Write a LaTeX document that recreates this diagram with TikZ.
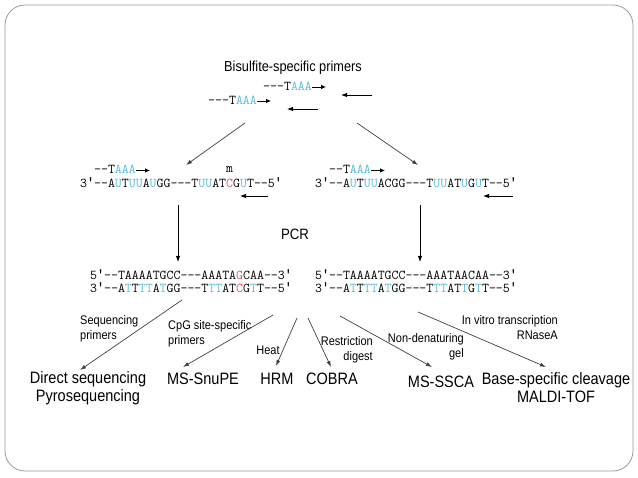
\documentclass[tikz,border=0pt]{standalone}
\usepackage{fontspec}
\setmainfont{Liberation Sans}
\newfontfamily\nsans[FakeStretch=0.88]{Liberation Sans}
\newfontfamily\primefont{Liberation Mono}
\usetikzlibrary{arrows.meta}
\definecolor{cy}{HTML}{55BBDD}
\definecolor{rd}{HTML}{E0506A}
\definecolor{framegray}{HTML}{9A9A9A}
\newcommand\cU[1]{\textcolor{cy}{#1}}
\newcommand\cR[1]{\textcolor{rd}{#1}}
\newcommand\prm{\makebox[\fontcharwd\font`A][c]{\primefont ′}}
\begin{document}
\begin{tikzpicture}[x=1pt,y=-1pt,
  lab/.style={font=\nsans\fontsize{12.5}{15}\selectfont, inner sep=0},
  res/.style={font=\nsans\fontsize{16.5}{18}\selectfont, inner sep=0, align=center},
  ttl/.style={font=\nsans\fontsize{14.5}{16}\selectfont, inner sep=0},
  seq/.style={font=\ttfamily\fontsize{13.5}{14}\selectfont, anchor=west, inner sep=0, text height=8pt, text depth=1.5pt},
  blk/.style={-{Latex[length=6pt,width=4.5pt]}, line width=0.9pt, black},
  shortarr/.style={-{Latex[length=5pt,width=4.5pt]}, line width=0.9pt, black},
  gry/.style={-{Latex[length=6pt,width=4pt]}, line width=0.7pt, black!75},
]
\useasboundingbox (0,0) rectangle (638,478);
\draw[framegray, line width=0.8pt, rounded corners=20pt] (5,5) rectangle (633,471);

% title
\node[ttl] (title) at (293,68) {Bisulfite-specific primers};

% top primers
\node[seq] (tp1) at (263,87) {---T\cU{AAA}};
\coordinate (tp1e) at ([xshift=14pt]tp1.east);
\draw[shortarr] (tp1.east) -- (tp1e);
\node[seq] (tp2) at (208,101) {---T\cU{AAA}};
\coordinate (tp2e) at ([xshift=14pt]tp2.east);
\draw[shortarr] (tp2.east) -- (tp2e);
\coordinate (ta1s) at (372,95); \coordinate (ta1e) at (341,95);
\draw[blk] (ta1s) -- (ta1e);
\coordinate (ta2s) at (318,109); \coordinate (ta2e) at (287,109);
\draw[blk] (ta2s) -- (ta2e);

% diagonal arrows
\coordinate (dl1) at (245,123); \coordinate (dl2) at (186,165);
\draw[gry] (dl1) -- (dl2);
\coordinate (dr1) at (357,123); \coordinate (dr2) at (418,165);
\draw[gry] (dr1) -- (dr2);

% middle left
\node[seq] (pr1) at (80,170.5) {\phantom{3\prm}--T\cU{AAA}};
\coordinate (pr1e) at ([xshift=14pt]pr1.east);
\draw[shortarr] (pr1.east) -- (pr1e);
\node[seq] (m1) at (80,169.5) {\phantom{3\prm--AUTUUAUGG---TUUAT}m};
\node[seq] (s1) at (80,184.5) {3\prm--A\cU{U}T\cU{UU}A\cU{U}GG---T\cU{UU}AT\cR{C}G\cU{U}T--5\prm};
\coordinate (ml1) at (268,196); \coordinate (ml2) at (240,196);
\draw[blk] (ml1) -- (ml2);

% middle right
\node[seq] (pr2) at (315,170.5) {\phantom{3\prm}--T\cU{AAA}};
\coordinate (pr2e) at ([xshift=14pt]pr2.east);
\draw[shortarr] (pr2.east) -- (pr2e);
\node[seq] (s2) at (315,184.5) {3\prm--A\cU{U}T\cU{UU}ACGG---T\cU{UU}AT\cU{U}G\cU{U}T--5\prm};
\coordinate (mr1) at (513,196); \coordinate (mr2) at (483,196);
\draw[blk] (mr1) -- (mr2);

% PCR
\node[font=\nsans\fontsize{15}{16}\selectfont, inner sep=0] (pcr) at (295,234) {PCR};
\coordinate (vl1) at (178,205); \coordinate (vl2) at (178,262);
\draw[blk] (vl1) -- (vl2);
\coordinate (vr1) at (420,205); \coordinate (vr2) at (420,262);
\draw[blk] (vr1) -- (vr2);

% bottom sequences
\node[seq] (b1) at (90,276) {5\prm--TAAAATGCC---AAATA\cR{G}CAA--3\prm};
\node[seq] (b2) at (90,289) {3\prm--A\cU{T}T\cU{TT}A\cU{T}GG---T\cU{TT}AT\cR{C}G\cU{T}T--5\prm};
\node[seq] (b3) at (315,276) {5\prm--TAAAATGCC---AAATAACAA--3\prm};
\node[seq] (b4) at (315,289) {3\prm--A\cU{T}T\cU{TT}A\cU{T}GG---T\cU{TT}AT\cU{T}G\cU{T}T--5\prm};

% branch labels
\node[lab, anchor=north west, align=left] (lseq) at (80,315) {Sequencing\\primers};
\node[lab, anchor=north west, align=left] (lcpg) at (168,320) {CpG site-specific\\primers};
\node[lab] (lheat) at (268,350) {Heat};
\node[lab, anchor=north east, align=right] (lres) at (373,336) {Restriction\\digest};
\node[lab, anchor=north east, align=right] (lnon) at (464,333) {Non-denaturing\\gel};
\node[lab, anchor=north east, align=right] (linv) at (558,315) {In vitro transcription\\RNaseA};

% results
\node[res] (rdir) at (88,388) {Direct sequencing\\Pyrosequencing};
\node[res] (rsnu) at (203,379) {MS-SnuPE};
\node[res] (rhrm) at (277,379) {HRM};
\node[res] (rcob) at (332,379) {COBRA};
\node[res] (rssc) at (441,382) {MS-SSCA};
\node[res] (rbas) at (556,388) {Base-specific cleavage\\MALDI-TOF};

% fan arrows
\coordinate (f1s) at (182,300); \coordinate (f1e) at (80,370);
\coordinate (f2s) at (273,315); \coordinate (f2e) at (183,367);
\coordinate (f3s) at (297,318); \coordinate (f3e) at (276,366);
\coordinate (f4s) at (308,318); \coordinate (f4e) at (331,367);
\coordinate (f5s) at (340,316); \coordinate (f5e) at (432,367);
\coordinate (f6s) at (418,312); \coordinate (f6e) at (546,367);
\foreach \i in {1,...,6} { \draw[gry] (f\i s) -- (f\i e); }
\end{tikzpicture}
\end{document}
